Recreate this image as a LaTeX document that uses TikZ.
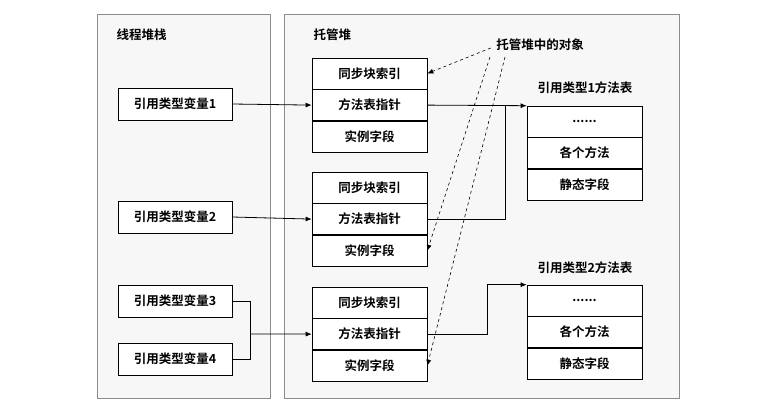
\documentclass[tikz,border=0pt]{standalone}
\usepackage{fontspec}
\newfontfamily\cjk{Noto Sans CJK SC Bold}
\usetikzlibrary{arrows.meta,positioning}
\begin{document}
\begin{tikzpicture}[x=1pt,y=-1pt,font=\cjk\fontsize{12.5}{14}\selectfont,
  panel/.style={draw=black!45,fill=black!3,line width=0.6pt},
  cell/.style={draw,fill=white,line width=0.6pt,minimum width=115pt,minimum height=31pt,inner sep=0pt},
  var/.style={draw,fill=white,line width=0.6pt,minimum width=114pt,minimum height=32pt,inner sep=0pt},
  conn/.style={line width=0.8pt,-{Latex[length=6pt,width=5pt]}},
  dconn/.style={dashed,line width=0.6pt,-{Latex[length=6pt,width=5pt]}}]
\useasboundingbox (0,0) rectangle (769,413);
\fill[white] (0,0) rectangle (769,413);
\draw[panel] (97,14) rectangle (270,398);
\draw[panel] (284,14) rectangle (679,398);
\node[anchor=west] (t1) at (113,35) {线程堆栈};
\node[anchor=west] (t2) at (310,35) {托管堆};
\node (lbl) at (540,45) {托管堆中的对象};
% vars
\node[var] (v1) at (175,104) {引用类型变量1};
\node[var] (v2) at (175,217) {引用类型变量2};
\node[var] (v3) at (175,301) {引用类型变量3};
\node[var] (v4) at (175,359) {引用类型变量4};
% objects
\foreach \i/\y in {1/73.5,2/187.5,3/302.5}{
  \node[cell] (s\i) at (369.5,\y) {同步块索引};
  \node[cell,anchor=north] (p\i) at (s\i.south) {方法表指针};
  \node[cell,anchor=north] (f\i) at (p\i.south) {实例字段};
}
% tables
\foreach \i/\y in {1/121.5,2/300.5}{
  \node[cell] (d\i) at (584.5,\y) {......};
  \node[cell,anchor=north] (m\i) at (d\i.south) {各个方法};
  \node[cell,anchor=north] (z\i) at (m\i.south) {静态字段};
}
\node (h1) at (585,88) {引用类型1方法表};
\node (h2) at (585,268) {引用类型2方法表};
% connectors
\draw[conn] (v1.east) -- (p1.west);
\draw[conn] (v2.east) -- (p2.west);
\coordinate (j) at (250,334);
\draw[line width=0.8pt] (v3.east) -| (j);
\draw[line width=0.8pt] (v4.east) -| (j);
\draw[conn] (j) -- (p3.west);
\draw[conn] (p1.east) -- (d1.north west);
\draw[line width=0.8pt] (p2.east) -| (505,106);
\draw[conn] (p3.east) -- ++(60,0) |- (d2.north west);
\draw[dconn] (lbl.west) ++(-2,3) -- (s1.east);
\draw[dconn] (490,57) -- (f2.east);
\draw[dconn] (505,57) -- (f3.east);
\end{tikzpicture}
\end{document}
